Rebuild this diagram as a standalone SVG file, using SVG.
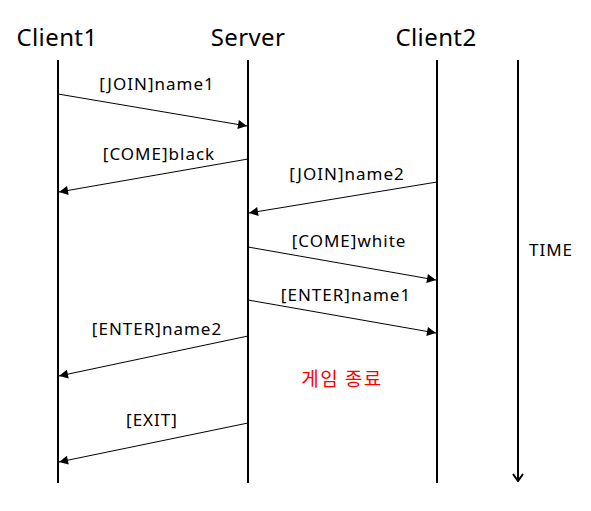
<svg xmlns="http://www.w3.org/2000/svg" width="591" height="511" viewBox="0 0 591 511">
<style>
.title{font-family:"Noto Sans","Noto Sans CJK KR",sans-serif;font-size:24px;fill:#000;text-anchor:middle;letter-spacing:0.4px}
.lbl{font-family:"Noto Sans","Noto Sans CJK KR",sans-serif;font-size:17px;fill:#000;text-anchor:middle;letter-spacing:1px}
.life{stroke:#000;stroke-width:2;fill:none}
.msg{stroke:#000;stroke-width:1;fill:none;marker-end:url(#ah)}
</style>
<defs>
<marker id="ah" viewBox="0 0 10 10" refX="10" refY="5" markerWidth="11" markerHeight="9" markerUnits="userSpaceOnUse" orient="auto">
<path d="M0,0 L10,5 L0,10 z" fill="#000"/>
</marker>
<marker id="open" viewBox="0 0 12 12" refX="6" refY="11" markerWidth="12" markerHeight="12" markerUnits="userSpaceOnUse" orient="0">
<path d="M1,4 L6,11 L11,4" fill="none" stroke="#000" stroke-width="2"/>
</marker>
</defs>
<rect width="591" height="511" fill="#fff"/>
<g id="client1">
<text class="title" x="57" y="46">Client1</text>
<line class="life" x1="58" y1="60" x2="58" y2="483"/>
</g>
<g id="server">
<text class="title" x="248" y="46">Server</text>
<line class="life" x1="248" y1="60" x2="248" y2="483"/>
</g>
<g id="client2">
<text class="title" x="436" y="46">Client2</text>
<line class="life" x1="437" y1="60" x2="437" y2="483"/>
</g>
<g id="time">
<line x1="518" y1="60" x2="518" y2="481" stroke="#000" stroke-width="2" marker-end="url(#open)"/>
<text class="lbl" x="551" y="256">TIME</text>
</g>
<g id="connectors">
<line class="msg" x1="58" y1="94" x2="247" y2="126"/>
<line class="msg" x1="248" y1="159" x2="59" y2="192"/>
<line class="msg" x1="437" y1="182" x2="249" y2="213"/>
<line class="msg" x1="248" y1="247" x2="436" y2="280"/>
<line class="msg" x1="248" y1="300" x2="436" y2="333"/>
<line class="msg" x1="248" y1="336" x2="59" y2="376"/>
<line class="msg" x1="248" y1="423" x2="59" y2="462"/>
<text class="lbl" x="157" y="90">[JOIN]name1</text>
<text class="lbl" x="159" y="160">[COME]black</text>
<text class="lbl" x="347" y="180">[JOIN]name2</text>
<text class="lbl" x="349" y="247">[COME]white</text>
<text class="lbl" x="346" y="301">[ENTER]name1</text>
<text class="lbl" x="157" y="335">[ENTER]name2</text>
<text class="lbl" x="152" y="426">[EXIT]</text>
</g>
<g id="note">
<text x="342" y="386" style="font-family:'Noto Sans CJK KR',sans-serif;font-size:19px;fill:#ff0000;text-anchor:middle;letter-spacing:1.5px">게임 종료</text>
</g>
</svg>
